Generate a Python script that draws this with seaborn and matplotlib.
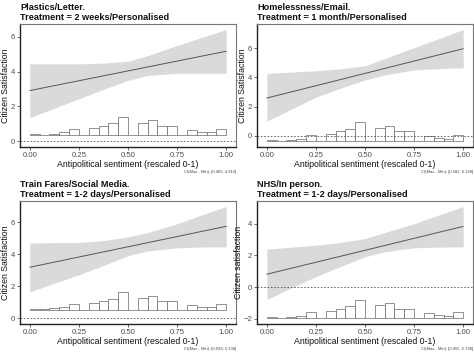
import numpy as np
import pandas as pd
import matplotlib
matplotlib.use('Agg')
import matplotlib.pyplot as plt
import seaborn as sns

# panel texts
titles = ['Plastics/Letter.\nTreatment = 2 weeks/Personalised',
          'Homelessness/Email.\nTreatment = 1 month/Personalised',
          'Train Fares/Social Media.\nTreatment = 1-2 days/Personalised',
          'NHS/In person.\nTreatment = 1-2 days/Personalised']
ylabels = ['Citizen Satisfaction', 'Citizen Satisfaction',
           'Citizen Satisfaction', 'Citizen satisfaction']
captions = ['CI(Max - Min): [0.403, 4.912]', 'CI(Max - Min): [0.582, 6.128]',
            'CI(Max - Min): [0.093, 5.138]', 'CI(Max - Min): [0.455, 5.738]']
xlabel = 'Antipolitical sentiment (rescaled 0-1)'

# fitted line (value at sentiment 0 and 1)
line_x = [0.0, 1.0]
line_y = [[2.91, 5.16], [2.58, 5.96], [3.19, 5.74], [0.81, 3.83]]

# confidence band read at these points
band_x = [0.0, 0.125, 0.25, 0.375, 0.5, 0.6, 0.75, 0.875, 1.0]
upper = [[4.44, 4.44, 4.44, 4.48, 4.59, 4.91, 5.49, 5.95, 6.40],
         [4.27, 4.36, 4.45, 4.58, 4.79, 5.29, 6.03, 6.65, 7.27],
         [4.71, 4.72, 4.73, 4.85, 5.08, 5.35, 5.90, 6.45, 6.97],
         [2.39, 2.52, 2.64, 2.82, 3.06, 3.44, 4.00, 4.55, 5.08]]
lower = [[1.35, 1.90, 2.44, 2.98, 3.49, 3.77, 3.90, 3.90, 3.90],
         [0.99, 1.82, 2.64, 3.25, 3.82, 4.16, 4.50, 4.60, 4.65],
         [1.65, 2.20, 2.72, 3.30, 3.91, 4.20, 4.40, 4.45, 4.46],
         [-0.79, -0.05, 0.66, 1.30, 1.91, 2.23, 2.48, 2.52, 2.54]]

# distribution of the moderator (20 bins of 0.05)
hist_counts = [3, 1, 4, 8, 17, 0, 20, 28, 35, 54, 0, 37, 44, 28, 28, 0, 16, 10, 8, 17]
hist_base = [0.36, -0.39, 0.54, -1.98]
hist_top = [1.40, 0.94, 1.62, -0.79]

sns.set_style('white')
plt.rcParams['font.family'] = ['Liberation Sans', 'DejaVu Sans']

fig = plt.figure(figsize=(4.74, 3.55), dpi=100)
W, H = 474.0, 355.0
rects = [(20, 24), (257, 24), (20, 201), (257, 201)]
aw, ah = 216, 123

edges = np.linspace(0, 1, len(hist_counts) + 1)
counts = np.array(hist_counts, dtype=float)

for i, (l, t) in enumerate(rects):
    ax = fig.add_axes([l / W, (H - t - ah) / H, aw / W, ah / H])

    ax.fill_between(band_x, lower[i], upper[i], color='#dadada', lw=0)
    df = pd.DataFrame({'x': line_x, 'y': line_y[i]})
    sns.lineplot(data=df, x='x', y='y', ax=ax, color='#555555', lw=0.7)

    scale = (hist_top[i] - hist_base[i]) / counts.max()
    ax.bar(edges[:-1], counts * scale, width=0.05, bottom=hist_base[i], align='edge',
           facecolor='white', edgecolor='#666666', lw=0.5)
    ax.axhline(0, color='#555555', lw=0.6, ls=(0, (2, 2)))

    lo = min(0, hist_base[i])
    hi = max(upper[i])
    pad = 0.05 * (hi - lo)
    ax.set_ylim(lo - pad, hi + pad)
    ax.set_xlim(-0.05, 1.05)
    ax.set_xticks([0, 0.25, 0.5, 0.75, 1.0])
    ax.set_xticklabels(['0.00', '0.25', '0.50', '0.75', '1.00'])
    yt = [-2, 0, 2, 4] if i == 3 else [0, 2, 4, 6]
    ax.set_yticks(yt)

    ax.tick_params(axis='both', length=2, width=0.5, pad=1.5, labelsize=5.6,
                   colors='#333333', labelcolor='#4d4d4d', bottom=True, left=True)
    for s in ['left', 'bottom']:
        ax.spines[s].set_color('#222222')
        ax.spines[s].set_linewidth(1.0)
    for s in ['top', 'right']:
        ax.spines[s].set_color('#777777')
        ax.spines[s].set_linewidth(0.8)

    ax.set_xlabel(xlabel, fontsize=6.3, labelpad=1, color='#111111')
    ax.set_ylabel(ylabels[i], fontsize=6.3, labelpad=0.5, color='#111111')
    ax.set_title(titles[i], loc='left', fontsize=6.6, fontweight='bold',
                 pad=3, linespacing=1.1, color='#111111')

    fig.text((l + aw) / W, 1 - (t + ah + 25) / H, captions[i], ha='right',
             va='center', fontsize=3, color='#444444')

fig.savefig('out.png', dpi=100)
